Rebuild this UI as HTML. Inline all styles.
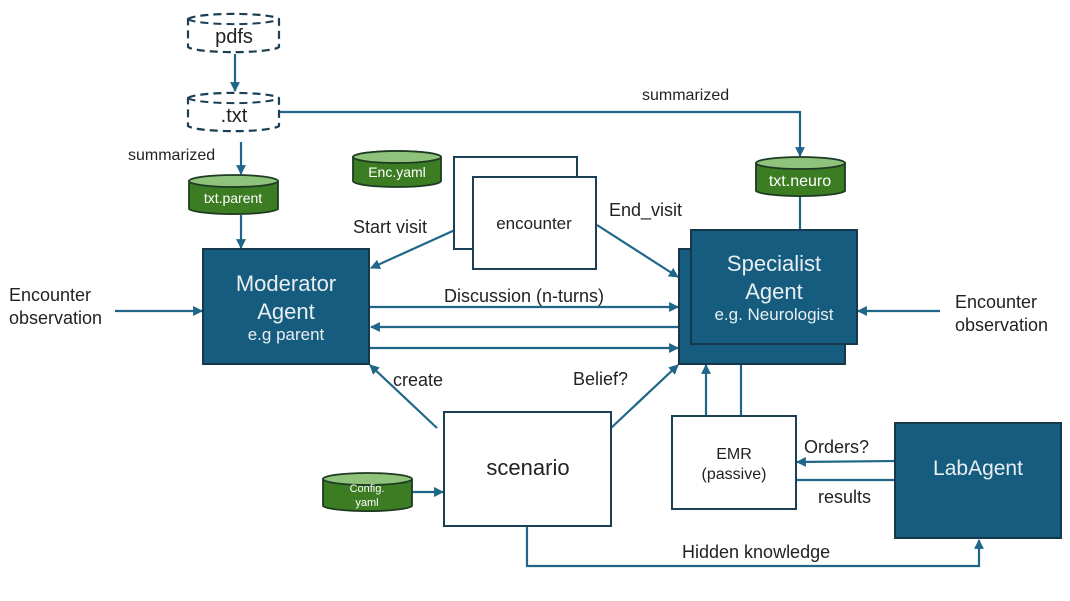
<!DOCTYPE html>
<html><head><meta charset="utf-8"><style>
html,body{margin:0;padding:0;background:#fff;}
svg{display:block;font-family:"Liberation Sans",sans-serif;}
</style></head><body>
<svg width="1070" height="601" viewBox="0 0 1070 601" xmlns="http://www.w3.org/2000/svg">
<defs>
<marker id="a" viewBox="0 0 10 10" refX="9" refY="5" markerWidth="4.5" markerHeight="4.5" orient="auto"><path d="M0,0 L10,5 L0,10 z" fill="#1f6688"/></marker>
</defs>
<g stroke="#1f6688" stroke-width="2.2" fill="none">
<line x1="235" y1="54" x2="235" y2="91" marker-end="url(#a)"/>
<line x1="241" y1="142" x2="241" y2="174" marker-end="url(#a)"/>
<line x1="241" y1="215" x2="241" y2="248" marker-end="url(#a)"/>
<polyline points="279,112 800,112 800,156" marker-end="url(#a)"/>
<line x1="800" y1="197" x2="800" y2="230"/>
<line x1="115" y1="311" x2="202" y2="311" marker-end="url(#a)"/>
<line x1="940" y1="311" x2="858" y2="311" marker-end="url(#a)"/>
<line x1="466" y1="225" x2="371" y2="268" marker-end="url(#a)"/>
<line x1="597" y1="225" x2="678" y2="277" marker-end="url(#a)"/>
<line x1="370" y1="307" x2="678" y2="307" marker-end="url(#a)"/>
<line x1="679" y1="327" x2="371" y2="327" marker-end="url(#a)"/>
<line x1="370" y1="348" x2="678" y2="348" marker-end="url(#a)"/>
<line x1="437" y1="428" x2="370" y2="365" marker-end="url(#a)"/>
<line x1="611" y1="428" x2="678" y2="365" marker-end="url(#a)"/>
<line x1="706" y1="416" x2="706" y2="365" marker-end="url(#a)"/>
<line x1="741" y1="416" x2="741" y2="364"/>
<line x1="895" y1="461" x2="797" y2="462" marker-end="url(#a)"/>
<line x1="796" y1="480" x2="895" y2="480"/>
<line x1="412" y1="492" x2="443" y2="492" marker-end="url(#a)"/>
<polyline points="527,526 527,566 979,566 979,540" marker-end="url(#a)"/>
</g>
<g stroke="#1d3f55" stroke-width="2.2" fill="#fff" stroke-dasharray="8,5">
<path d="M188,19 a46,6 0 0 1 91,0 v28 a46,6 0 0 1 -91,0 z"/>
<path d="M188,98 a46,6 0 0 1 91,0 v28 a46,6 0 0 1 -91,0 z"/>
</g>
<g stroke="#1d3f55" stroke-width="2" fill="none" stroke-dasharray="8,5">
<path d="M188,19 a46,6 0 0 0 91,0"/><path d="M188,98 a46,6 0 0 0 91,0"/>
</g>
<text x="234" y="43" font-size="20" text-anchor="middle" fill="#222">pdfs</text>
<text x="234" y="122" font-size="20" text-anchor="middle" fill="#222">.txt</text>
<g stroke="#1d3a22" stroke-width="1.8">
<path d="M189,181 a45,6 0 0 1 89,0 v28 a45,6 0 0 1 -89,0 z" fill="#3c7d23"/>
<ellipse cx="233.5" cy="181" rx="44.5" ry="6" fill="#8fc27a"/>
<path d="M353,157 a44,6 0 0 1 88,0 v24 a44,6 0 0 1 -88,0 z" fill="#3c7d23"/>
<ellipse cx="397" cy="157" rx="44" ry="6" fill="#8fc27a"/>
<path d="M756,163 a45,6 0 0 1 89,0 v28 a45,6 0 0 1 -89,0 z" fill="#3c7d23"/>
<ellipse cx="800.5" cy="163" rx="44.5" ry="6" fill="#8fc27a"/>
<path d="M323,479 a45,6 0 0 1 89,0 v27 a45,6 0 0 1 -89,0 z" fill="#3c7d23"/>
<ellipse cx="367.5" cy="479" rx="44.5" ry="6" fill="#8fc27a"/>
</g>
<g fill="#fff" text-anchor="middle">
<text x="233" y="203" font-size="14">txt.parent</text>
<text x="397" y="177" font-size="14">Enc.yaml</text>
<text x="800" y="186" font-size="16">txt.neuro</text>
<text x="367" y="492" font-size="11">Config.</text>
<text x="367" y="506" font-size="11">yaml</text>
</g>
<rect x="454" y="157" width="123" height="92" fill="#fff" stroke="#1d3f55" stroke-width="2"/>
<rect x="473" y="177" width="123" height="92" fill="#fff" stroke="#1d3f55" stroke-width="2"/>
<text x="534" y="229" font-size="17" text-anchor="middle" fill="#222">encounter</text>
<rect x="203" y="249" width="166" height="115" fill="#165c7e" stroke="#17374a" stroke-width="2"/>
<g fill="#e8eef2" text-anchor="middle">
<text x="286" y="291" font-size="22">Moderator</text>
<text x="286" y="319" font-size="22">Agent</text>
<text x="286" y="340" font-size="17">e.g parent</text>
</g>
<rect x="679" y="249" width="166" height="115" fill="#165c7e" stroke="#17374a" stroke-width="2"/>
<rect x="691" y="230" width="166" height="114" fill="#165c7e" stroke="#17374a" stroke-width="2"/>
<g fill="#e8eef2" text-anchor="middle">
<text x="774" y="271" font-size="22">Specialist</text>
<text x="774" y="299" font-size="22">Agent</text>
<text x="774" y="320" font-size="17">e.g. Neurologist</text>
</g>
<rect x="444" y="412" width="167" height="114" fill="#fff" stroke="#1d3f55" stroke-width="2"/>
<text x="528" y="475" font-size="22" text-anchor="middle" fill="#222">scenario</text>
<rect x="672" y="416" width="124" height="93" fill="#fff" stroke="#1d3f55" stroke-width="2"/>
<text x="734" y="459" font-size="16" text-anchor="middle" fill="#222">EMR</text>
<text x="734" y="479" font-size="16" text-anchor="middle" fill="#222">(passive)</text>
<rect x="895" y="423" width="166" height="115" fill="#165c7e" stroke="#17374a" stroke-width="2"/>
<text x="978" y="475" font-size="21" text-anchor="middle" fill="#e8eef2">LabAgent</text>
<g fill="#222" font-size="18">
<text x="128" y="160" font-size="16">summarized</text>
<text x="642" y="100" font-size="16">summarized</text>
<text x="353" y="233">Start visit</text>
<text x="609" y="216">End_visit</text>
<text x="444" y="302">Discussion (n-turns)</text>
<text x="393" y="386">create</text>
<text x="573" y="385">Belief?</text>
<text x="804" y="453">Orders?</text>
<text x="818" y="503">results</text>
<text x="682" y="558">Hidden knowledge</text>
<text x="9" y="301">Encounter</text>
<text x="9" y="324">observation</text>
<text x="955" y="308">Encounter</text>
<text x="955" y="331">observation</text>
</g>
</svg>
</body></html>
